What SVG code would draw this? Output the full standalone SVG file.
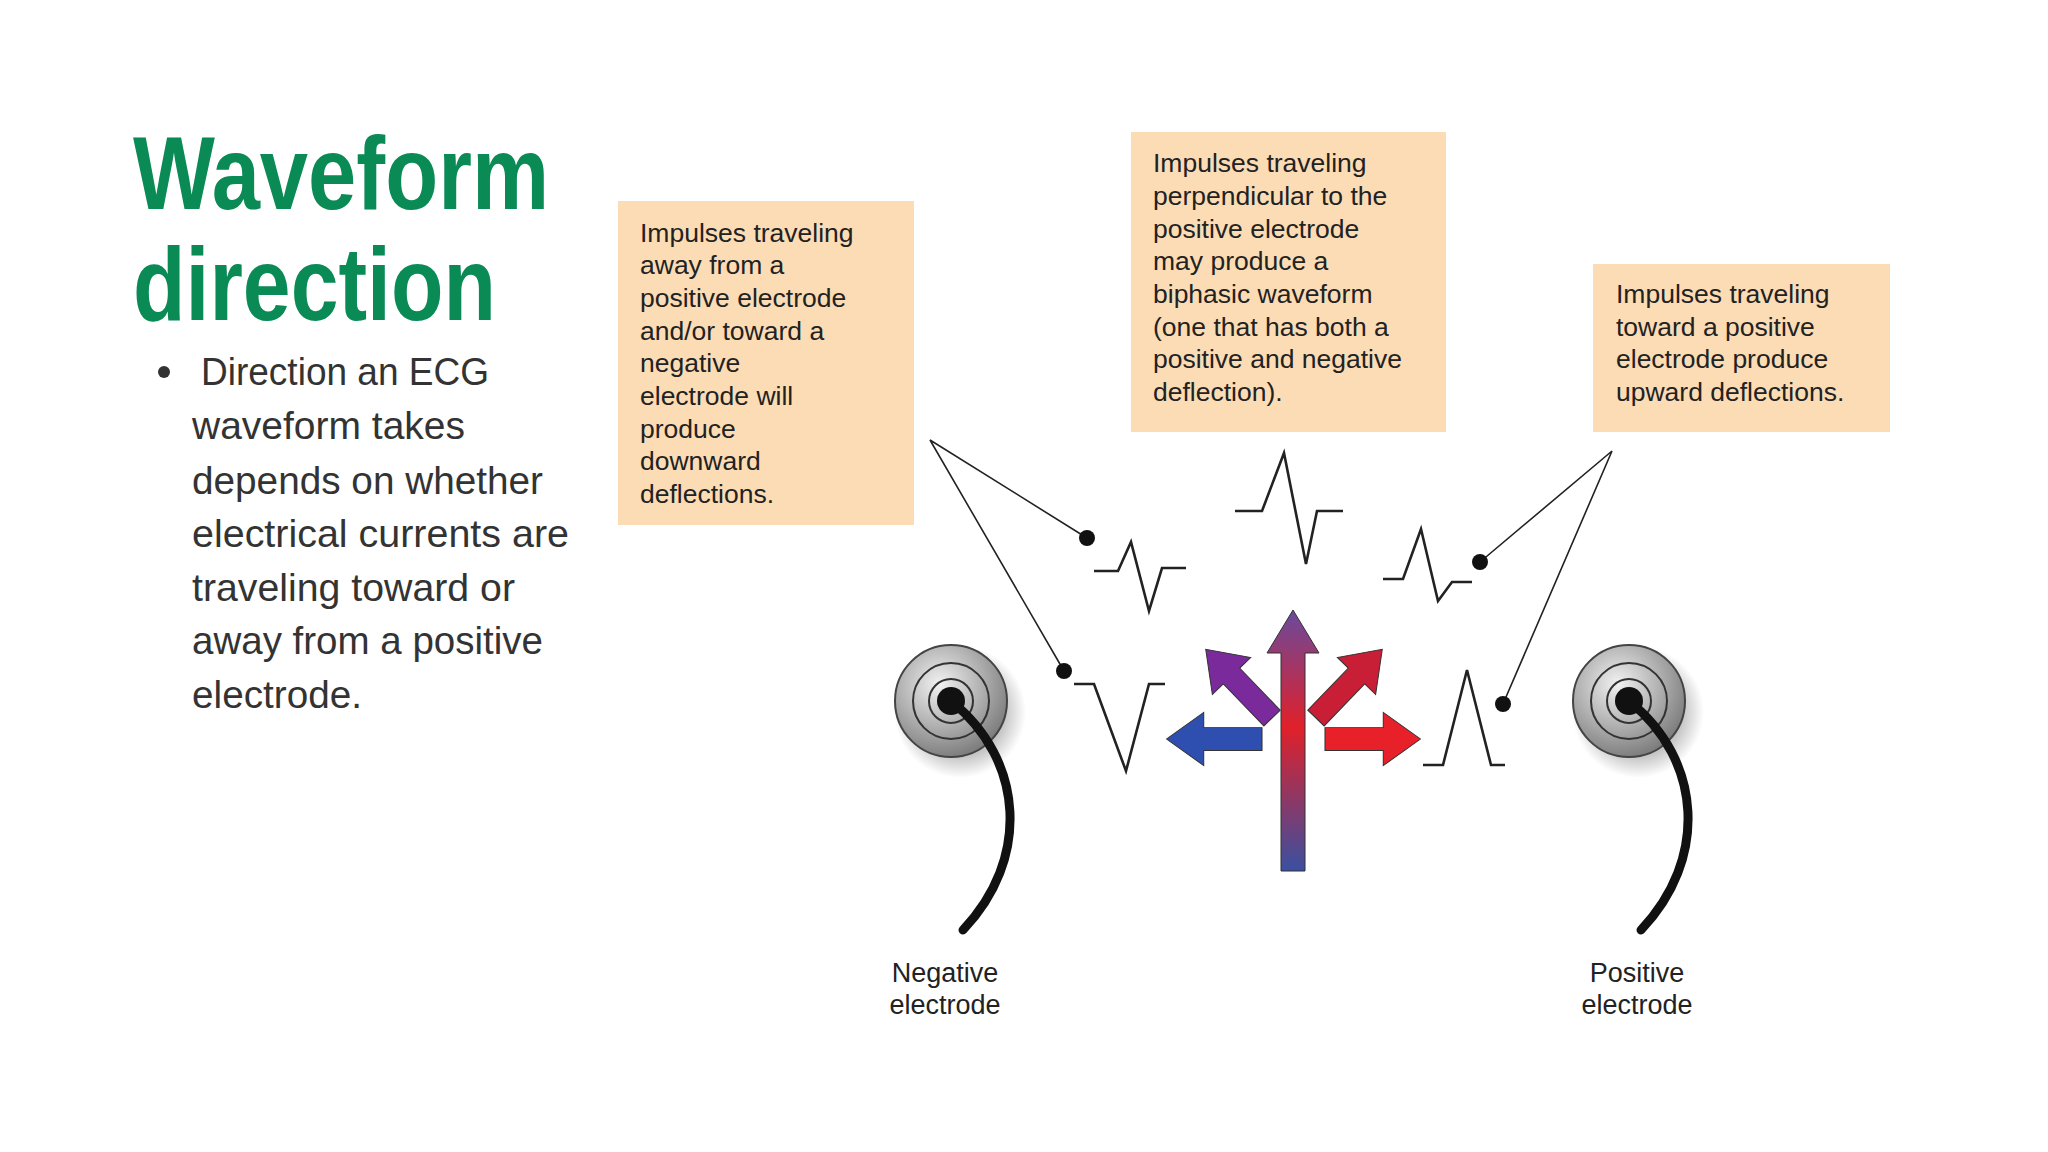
<svg xmlns="http://www.w3.org/2000/svg" width="2048" height="1152" viewBox="0 0 2048 1152">
<defs>
<style>
.title{font-family:"Liberation Sans",Arial,sans-serif;font-weight:bold;font-size:104px;fill:#0a8a55}
.bul{font-family:"Liberation Sans",Arial,sans-serif;font-size:39px;fill:#333}
.box{fill:#fcdcb5}
.bt{font-family:"Liberation Sans",Arial,sans-serif;font-size:26.5px;fill:#222}
.lbl{font-family:"Liberation Sans",Arial,sans-serif;font-size:27px;fill:#222;text-anchor:middle}
.ln{fill:none;stroke:#222;stroke-width:1.6}
.wave{fill:none;stroke:#222;stroke-width:2.6}
.wire{fill:none;stroke:#111;stroke-width:9;stroke-linecap:round}
</style>
<linearGradient id="vg" x1="0" y1="0" x2="0" y2="1">
<stop offset="0" stop-color="#6a4a9c"/><stop offset="0.45" stop-color="#e0202a"/><stop offset="1" stop-color="#3a50a0"/>
</linearGradient>
<radialGradient id="disc" cx="0.4" cy="0.35" r="0.7">
<stop offset="0" stop-color="#f2f2f2"/><stop offset="1" stop-color="#777"/>
</radialGradient>
<radialGradient id="sh" cx="0.5" cy="0.5" r="0.5">
<stop offset="0.5" stop-color="#000" stop-opacity="0.35"/><stop offset="1" stop-color="#000" stop-opacity="0"/>
</radialGradient>
<path id="arr" d="M0,-12 L55,-12 L55,-28 L90,0 L55,28 L55,12 L0,12 Z"/>
</defs>
<rect width="2048" height="1152" fill="#fff"/>
<g id="title">
<text class="title" x="133" y="209" textLength="416" lengthAdjust="spacingAndGlyphs">Waveform</text>
<text class="title" x="133" y="320" textLength="363" lengthAdjust="spacingAndGlyphs">direction</text>
</g>
<g id="bullet">
<circle cx="164" cy="372" r="6" fill="#333"/>
<text class="bul" x="201" y="385" textLength="288" lengthAdjust="spacingAndGlyphs">Direction an ECG</text>
<text class="bul" x="192" y="439" textLength="273" lengthAdjust="spacingAndGlyphs">waveform takes</text>
<text class="bul" x="192" y="494" textLength="351" lengthAdjust="spacingAndGlyphs">depends on whether</text>
<text class="bul" x="192" y="547" textLength="377" lengthAdjust="spacingAndGlyphs">electrical currents are</text>
<text class="bul" x="192" y="601" textLength="323" lengthAdjust="spacingAndGlyphs">traveling toward or</text>
<text class="bul" x="192" y="654" textLength="351" lengthAdjust="spacingAndGlyphs">away from a positive</text>
<text class="bul" x="192" y="708" textLength="170" lengthAdjust="spacingAndGlyphs">electrode.</text>
</g>
<g id="box1">
<rect class="box" x="618" y="201" width="296" height="324"/>
<text class="bt" x="640" y="242">Impulses traveling</text>
<text class="bt" x="640" y="274">away from a</text>
<text class="bt" x="640" y="307">positive electrode</text>
<text class="bt" x="640" y="340">and/or toward a</text>
<text class="bt" x="640" y="372">negative</text>
<text class="bt" x="640" y="405">electrode will</text>
<text class="bt" x="640" y="438">produce</text>
<text class="bt" x="640" y="470">downward</text>
<text class="bt" x="640" y="503">deflections.</text>
</g>
<g id="box2">
<rect class="box" x="1131" y="132" width="315" height="300"/>
<text class="bt" x="1153" y="172">Impulses traveling</text>
<text class="bt" x="1153" y="205">perpendicular to the</text>
<text class="bt" x="1153" y="238">positive electrode</text>
<text class="bt" x="1153" y="270">may produce a</text>
<text class="bt" x="1153" y="303">biphasic waveform</text>
<text class="bt" x="1153" y="336">(one that has both a</text>
<text class="bt" x="1153" y="368">positive and negative</text>
<text class="bt" x="1153" y="401">deflection).</text>
</g>
<g id="box3">
<rect class="box" x="1593" y="264" width="297" height="168"/>
<text class="bt" x="1616" y="303">Impulses traveling</text>
<text class="bt" x="1616" y="336">toward a positive</text>
<text class="bt" x="1616" y="368">electrode produce</text>
<text class="bt" x="1616" y="401">upward deflections.</text>
</g>
<g id="connectors">
<polyline class="ln" points="1087,538 930,440 1064,671"/>
<polyline class="ln" points="1480,562 1612,451 1503,704"/>
<circle cx="1087" cy="538" r="8" fill="#111"/>
<circle cx="1064" cy="671" r="8" fill="#111"/>
<circle cx="1480" cy="562" r="8" fill="#111"/>
<circle cx="1503" cy="704" r="8" fill="#111"/>
</g>
<g id="waves">
<polyline class="wave" points="1094,571 1118,571 1131,542 1149,611 1162,568 1186,568"/>
<polyline class="wave" points="1235,511 1262,511 1284,453 1306,564 1317,511 1343,511"/>
<polyline class="wave" points="1383,579 1403,579 1421,529 1438,601 1452,582 1472,582"/>
<polyline class="wave" points="1074,684 1094,684 1126,771 1149,684 1165,684"/>
<polyline class="wave" points="1423,765 1443,765 1467,670 1491,765 1505,765"/>
</g>
<g id="arrows" stroke="#333" stroke-width="1">
<path d="M1281,871 L1281,653 L1267,653 L1293,610 L1319,653 L1305,653 L1305,871 Z" fill="url(#vg)"/>
<use href="#arr" transform="translate(1262,739) rotate(180) scale(1.06,0.95)" fill="#2e4fb0"/>
<use href="#arr" transform="translate(1325,739) scale(1.06,0.95)" fill="#e8202a"/>
<use href="#arr" transform="translate(1272,718) rotate(-134) scale(1.06,0.95)" fill="#7a2a9a"/>
<use href="#arr" transform="translate(1316,718) rotate(-46) scale(1.06,0.95)" fill="#c81e36"/>
</g>
<g id="negative">
<circle cx="960" cy="712" r="66" fill="url(#sh)"/>
<circle cx="951" cy="701" r="56" fill="url(#disc)" stroke="#444" stroke-width="2"/>
<circle cx="951" cy="701" r="38" fill="none" stroke="#333" stroke-width="2"/>
<circle cx="951" cy="701" r="22" fill="none" stroke="#333" stroke-width="2"/>
<circle cx="951" cy="701" r="14" fill="#111"/>
<path class="wire" d="M951,701 C1025,760 1030,860 963,930"/>
<text class="lbl" x="945" y="982">Negative</text>
<text class="lbl" x="945" y="1014">electrode</text>
</g>
<g id="positive">
<circle cx="1638" cy="712" r="66" fill="url(#sh)"/>
<circle cx="1629" cy="701" r="56" fill="url(#disc)" stroke="#444" stroke-width="2"/>
<circle cx="1629" cy="701" r="38" fill="none" stroke="#333" stroke-width="2"/>
<circle cx="1629" cy="701" r="22" fill="none" stroke="#333" stroke-width="2"/>
<circle cx="1629" cy="701" r="14" fill="#111"/>
<path class="wire" d="M1629,701 C1703,760 1708,860 1641,930"/>
<text class="lbl" x="1637" y="982">Positive</text>
<text class="lbl" x="1637" y="1014">electrode</text>
</g>
</svg>
